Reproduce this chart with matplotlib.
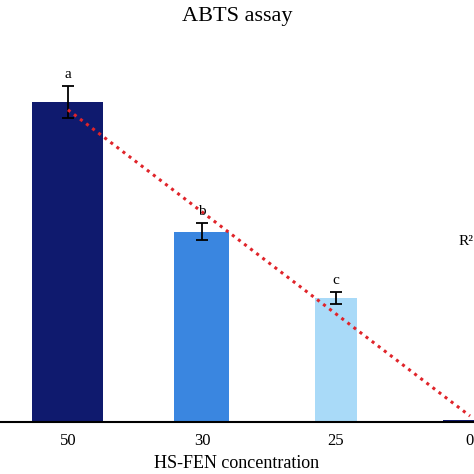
import numpy as np
import matplotlib
matplotlib.use("Agg")
import matplotlib.pyplot as plt

plt.rcParams['font.family'] = ['Liberation Serif', 'DejaVu Serif']

categories = ["50", "30", "25", "0"]
values = [80.0, 47.6, 31.0, 0.5]
errors = [4.0, 2.2, 1.5, 0.0]
letters = ["a", "b", "c", ""]

colors = ["#0f1a6e", "#3a86e0", "#a9daf8", "#0f1a6e"]
widths = [0.53, 0.41, 0.32, 0.4]

fig = plt.figure(figsize=(4.74, 4.74), dpi=100)
ax = fig.add_axes([0, 0.1097, 1.0, 0.806])
x = np.arange(len(categories))
ax.bar(x, values, width=widths, color=colors)
ax.errorbar(x[:3], values[:3], yerr=errors[:3], fmt="none", ecolor="black",
            elinewidth=1.3, capsize=4, capthick=1.3)
for xi, v, e, t in zip(x, values, errors, letters):
    if t:
        ax.text(xi, v + e + 1.2, t, ha="center", va="bottom", fontsize=11)

slope, intercept = np.polyfit(x, values, 1)
xl = np.array([0, 3])
ax.plot(xl, slope * xl + intercept, color="#e0242a", ls=(0, (1, 1.5)), lw=2.2)
ax.text(3.03, 45, "R²", fontsize=11, ha="right", va="center")

ax.set_xlim(-0.507, 3.03)
ax.set_ylim(0, 95.5)
ax.set_xticks(x)
ax.set_xticklabels(categories, fontsize=12)
ax.tick_params(axis="x", length=0, pad=8)
ax.set_yticks([])
for s in ["top", "right", "left"]:
    ax.spines[s].set_visible(False)
ax.spines["bottom"].set_linewidth(1.5)
ax.set_xlabel("HS-FEN concentration", fontsize=13, labelpad=4)
fig.text(0.5, 0.965, "ABTS assay", ha="center", va="center", fontsize=16)
fig.savefig("out.png", dpi=100)
